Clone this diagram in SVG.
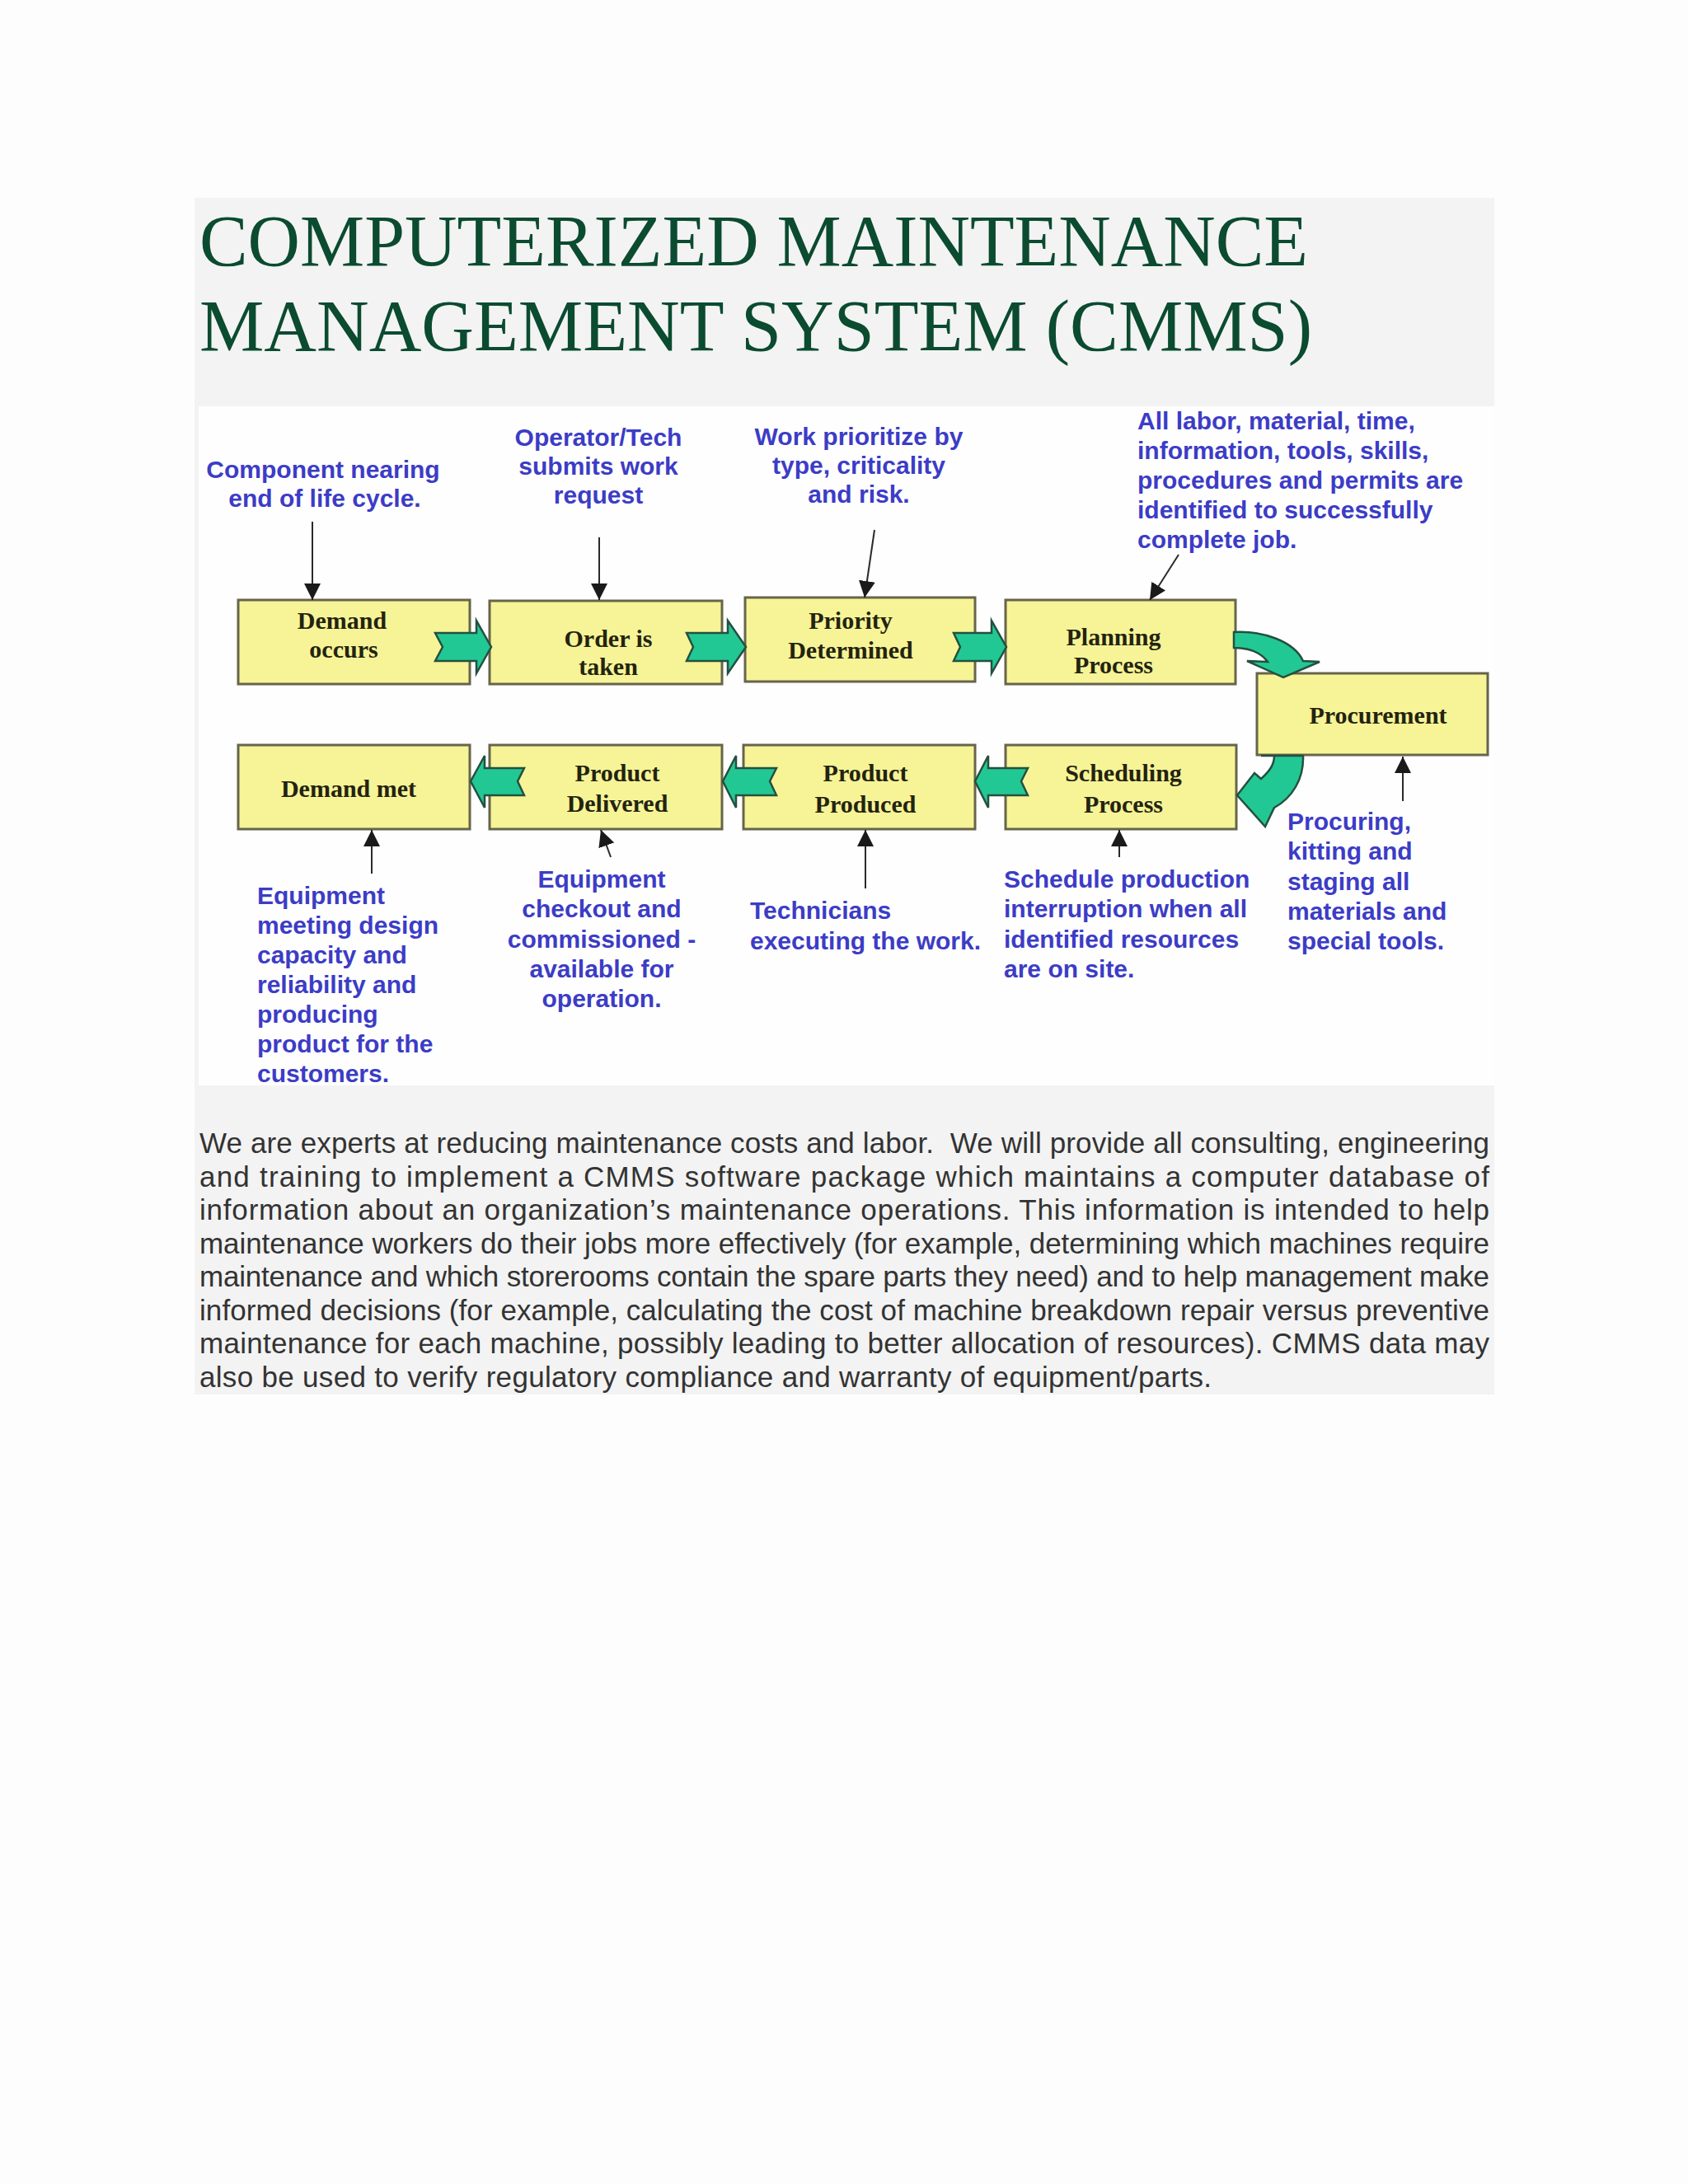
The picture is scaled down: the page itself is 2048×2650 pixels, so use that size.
<svg xmlns="http://www.w3.org/2000/svg" width="2048" height="2650" viewBox="0 0 2048 2650">
<defs>
<style>
.title{font-family:"Liberation Serif","Times New Roman",serif;font-size:89px;fill:#0b4b30;}
.box{fill:#f6f497;stroke:#66654a;stroke-width:3;}
.bt{font-family:"Liberation Serif","Times New Roman",serif;font-weight:bold;font-size:30px;fill:#24230f;text-anchor:middle;}
.ann{font-family:"Liberation Sans",Arial,sans-serif;font-weight:bold;font-size:30px;fill:#3c3cc6;}
.mid{text-anchor:middle;}
.ga{fill:#22c894;stroke:#24503f;stroke-width:2.5;stroke-linejoin:miter;}
.pl{stroke:#2a2a2a;stroke-width:2;fill:none;marker-end:url(#ah);}
.body{font-family:"Liberation Sans",Arial,sans-serif;font-size:35px;fill:#333333;}
</style>
<marker id="ah" markerUnits="userSpaceOnUse" markerWidth="22" markerHeight="22" refX="20" refY="10" orient="auto">
<path d="M0,0 L20,10 L0,20 z" fill="#1a1a1a"/>
</marker>
</defs>
<rect x="0" y="0" width="2048" height="2650" fill="#fdfdfd"/>
<rect x="236" y="240" width="1577" height="1452" fill="#f3f3f3"/>
<rect x="241" y="493" width="1572" height="824" fill="#fefefe"/>

<g id="title">
<text class="title" x="242" y="322" textLength="1345" lengthAdjust="spacingAndGlyphs">COMPUTERIZED MAINTENANCE</text>
<text class="title" x="242" y="425" textLength="1350" lengthAdjust="spacingAndGlyphs">MANAGEMENT SYSTEM (CMMS)</text>
</g>

<g id="n-demand-occurs">
<rect class="box" x="289" y="728" width="281" height="102"/>
<text class="bt" x="415" y="763">Demand</text>
<text class="bt" x="417" y="798">occurs</text>
</g>
<g id="n-order-taken">
<rect class="box" x="594" y="729" width="282" height="101"/>
<text class="bt" x="738" y="785">Order is</text>
<text class="bt" x="738" y="819">taken</text>
</g>
<g id="n-priority">
<rect class="box" x="904" y="725" width="279" height="102"/>
<text class="bt" x="1032" y="763">Priority</text>
<text class="bt" x="1032" y="799">Determined</text>
</g>
<g id="n-planning">
<rect class="box" x="1220" y="728" width="279" height="102"/>
<text class="bt" x="1351" y="783">Planning</text>
<text class="bt" x="1351" y="817">Process</text>
</g>
<g id="n-procurement">
<rect class="box" x="1525" y="817" width="280" height="99"/>
<text class="bt" x="1672" y="878">Procurement</text>
</g>
<g id="n-demand-met">
<rect class="box" x="289" y="904" width="281" height="102"/>
<text class="bt" x="423" y="967">Demand met</text>
</g>
<g id="n-product-delivered">
<rect class="box" x="594" y="904" width="282" height="102"/>
<text class="bt" x="749" y="948">Product</text>
<text class="bt" x="749" y="985">Delivered</text>
</g>
<g id="n-product-produced">
<rect class="box" x="902" y="904" width="281" height="102"/>
<text class="bt" x="1050" y="948">Product</text>
<text class="bt" x="1050" y="986">Produced</text>
</g>
<g id="n-scheduling">
<rect class="box" x="1220" y="904" width="280" height="102"/>
<text class="bt" x="1363" y="948">Scheduling</text>
<text class="bt" x="1363" y="986">Process</text>
</g>

<g id="connectors">
<polygon class="ga" points="528,768 578,768 578,753 596,785 578,817 578,802 528,802 537,785"/>
<polygon class="ga" points="833,768 883,768 883,753 905,785 883,817 883,802 833,802 841,785"/>
<polygon class="ga" points="1157,768 1203,768 1203,753 1221,785 1203,817 1203,802 1157,802 1165,785"/>
<polygon class="ga" points="636,932 588,932 588,917 571,948 588,980 588,965 636,965 628,948"/>
<polygon class="ga" points="942,932 893,932 893,917 877,948 893,980 893,965 942,965 934,948"/>
<polygon class="ga" points="1247,932 1199,932 1199,917 1183,948 1199,980 1199,965 1247,965 1239,948"/>
<path class="ga" d="M1497,767 C1532,765 1570,778 1581,802 L1601,803 L1557,822 L1513,802 L1538,803 C1530,792 1516,786 1497,786 Z"/>
<path class="ga" d="M1530,917 L1581,917 C1582,945 1568,968 1546,980 L1535,1003 L1501,965 L1522,938 L1530,945 C1540,936 1546,928 1546,917 Z"/>
<line class="pl" x1="379" y1="633" x2="379" y2="728"/>
<line class="pl" x1="727" y1="652" x2="727" y2="728"/>
<line class="pl" x1="1061" y1="643" x2="1049" y2="725"/>
<line class="pl" x1="1430" y1="673" x2="1395" y2="728"/>
<line class="pl" x1="1702" y1="972" x2="1702" y2="918"/>
<line class="pl" x1="451" y1="1060" x2="451" y2="1007"/>
<line class="pl" x1="741" y1="1040" x2="729" y2="1007"/>
<line class="pl" x1="1050" y1="1078" x2="1050" y2="1007"/>
<line class="pl" x1="1358" y1="1040" x2="1358" y2="1007"/>
</g>

<g id="annotations">
<text class="ann mid" x="392" y="580">Component nearing</text>
<text class="ann mid" x="394" y="615">end of life cycle.</text>
<text class="ann mid" x="726" y="541">Operator/Tech</text>
<text class="ann mid" x="726" y="576">submits work</text>
<text class="ann mid" x="726" y="611">request</text>
<text class="ann mid" x="1042" y="540">Work prioritize by</text>
<text class="ann mid" x="1042" y="575">type, criticality</text>
<text class="ann mid" x="1042" y="610">and risk.</text>
<text class="ann" x="1380" y="521">All labor, material, time,</text>
<text class="ann" x="1380" y="557">information, tools, skills,</text>
<text class="ann" x="1380" y="593">procedures and permits are</text>
<text class="ann" x="1380" y="629">identified to successfully</text>
<text class="ann" x="1380" y="665">complete job.</text>
<text class="ann" x="1562" y="1007">Procuring,</text>
<text class="ann" x="1562" y="1043">kitting and</text>
<text class="ann" x="1562" y="1080">staging all</text>
<text class="ann" x="1562" y="1116">materials and</text>
<text class="ann" x="1562" y="1152">special tools.</text>
<text class="ann" x="312" y="1097">Equipment</text>
<text class="ann" x="312" y="1133">meeting design</text>
<text class="ann" x="312" y="1169">capacity and</text>
<text class="ann" x="312" y="1205">reliability and</text>
<text class="ann" x="312" y="1241">producing</text>
<text class="ann" x="312" y="1277">product for the</text>
<text class="ann" x="312" y="1313">customers.</text>
<text class="ann mid" x="730" y="1077">Equipment</text>
<text class="ann mid" x="730" y="1113">checkout and</text>
<text class="ann mid" x="730" y="1150">commissioned -</text>
<text class="ann mid" x="730" y="1186">available for</text>
<text class="ann mid" x="730" y="1222">operation.</text>
<text class="ann" x="910" y="1115">Technicians</text>
<text class="ann" x="910" y="1152">executing the work.</text>
<text class="ann" x="1218" y="1077">Schedule production</text>
<text class="ann" x="1218" y="1113">interruption when all</text>
<text class="ann" x="1218" y="1150">identified resources</text>
<text class="ann" x="1218" y="1186">are on site.</text>
</g>

<g id="body-text">
<text class="body" x="242" y="1399" textLength="1565" lengthAdjust="spacing">We are experts at reducing maintenance costs and labor.&#160; We will provide all consulting, engineering</text>
<text class="body" x="242" y="1440" textLength="1565" lengthAdjust="spacing">and training to implement a CMMS software package which maintains a computer database of</text>
<text class="body" x="242" y="1480" textLength="1565" lengthAdjust="spacing">information about an organization’s maintenance operations. This information is intended to help</text>
<text class="body" x="242" y="1521" textLength="1565" lengthAdjust="spacing">maintenance workers do their jobs more effectively (for example, determining which machines require</text>
<text class="body" x="242" y="1561" textLength="1565" lengthAdjust="spacing">maintenance and which storerooms contain the spare parts they need) and to help management make</text>
<text class="body" x="242" y="1602" textLength="1565" lengthAdjust="spacing">informed decisions (for example, calculating the cost of machine breakdown repair versus preventive</text>
<text class="body" x="242" y="1642" textLength="1565" lengthAdjust="spacing">maintenance for each machine, possibly leading to better allocation of resources). CMMS data may</text>
<text class="body" x="242" y="1683" textLength="1228" lengthAdjust="spacing">also be used to verify regulatory compliance and warranty of equipment/parts.</text>
</g>
</svg>
